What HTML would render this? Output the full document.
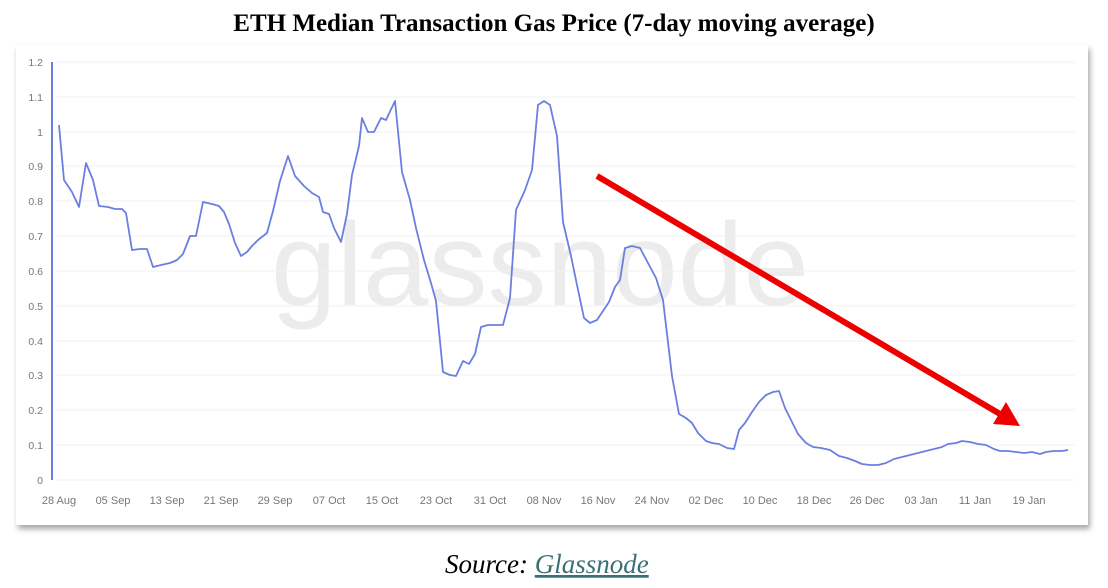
<!DOCTYPE html>
<html><head><meta charset="utf-8"><style>
html,body{margin:0;padding:0;background:#fff;width:1108px;height:588px;overflow:hidden}
</style></head><body>
<svg width="1108" height="588" viewBox="0 0 1108 588" xmlns="http://www.w3.org/2000/svg">
<defs><filter id="sh" x="-5%" y="-5%" width="110%" height="115%"><feDropShadow dx="2" dy="4" stdDeviation="3" flood-color="#000" flood-opacity="0.35"/></filter></defs>
<text x="554" y="31" text-anchor="middle" font-family="Liberation Serif, serif" font-weight="bold" font-size="25" fill="#000">ETH Median Transaction Gas Price (7-day moving average)</text>
<rect x="16" y="45" width="1072" height="480" fill="#fff" filter="url(#sh)"/>
<text x="540" y="305" text-anchor="middle" font-family="Liberation Sans, sans-serif" font-size="118" fill="#ececec">glassnode</text>
<g stroke="#f0f0f0" stroke-width="1">
<line x1="55" x2="1075" y1="62" y2="62"/><line x1="55" x2="1075" y1="97" y2="97"/><line x1="55" x2="1075" y1="132" y2="132"/><line x1="55" x2="1075" y1="166" y2="166"/><line x1="55" x2="1075" y1="201" y2="201"/><line x1="55" x2="1075" y1="236" y2="236"/><line x1="55" x2="1075" y1="271" y2="271"/><line x1="55" x2="1075" y1="306" y2="306"/><line x1="55" x2="1075" y1="341" y2="341"/><line x1="55" x2="1075" y1="375" y2="375"/><line x1="55" x2="1075" y1="410" y2="410"/><line x1="55" x2="1075" y1="445" y2="445"/><line x1="55" x2="1075" y1="480" y2="480"/>
</g>
<line x1="52" y1="62" x2="52" y2="480" stroke="#6b7fe0" stroke-width="2"/>
<g font-family="Liberation Sans, sans-serif" font-size="10.5" fill="#777" text-anchor="end">
<text x="43" y="66">1.2</text><text x="43" y="101">1.1</text><text x="43" y="136">1</text><text x="43" y="170">0.9</text><text x="43" y="205">0.8</text><text x="43" y="240">0.7</text><text x="43" y="275">0.6</text><text x="43" y="310">0.5</text><text x="43" y="345">0.4</text><text x="43" y="379">0.3</text><text x="43" y="414">0.2</text><text x="43" y="449">0.1</text><text x="43" y="484">0</text>
</g>
<g font-family="Liberation Sans, sans-serif" font-size="11" fill="#777" text-anchor="middle">
<text x="59" y="504">28 Aug</text><text x="113" y="504">05 Sep</text><text x="167" y="504">13 Sep</text><text x="221" y="504">21 Sep</text><text x="275" y="504">29 Sep</text><text x="329" y="504">07 Oct</text><text x="382" y="504">15 Oct</text><text x="436" y="504">23 Oct</text><text x="490" y="504">31 Oct</text><text x="544" y="504">08 Nov</text><text x="598" y="504">16 Nov</text><text x="652" y="504">24 Nov</text><text x="706" y="504">02 Dec</text><text x="760" y="504">10 Dec</text><text x="814" y="504">18 Dec</text><text x="867" y="504">26 Dec</text><text x="921" y="504">03 Jan</text><text x="975" y="504">11 Jan</text><text x="1029" y="504">19 Jan</text>
</g>
<polyline fill="none" stroke="#6b7fe0" stroke-width="1.8" stroke-linejoin="round" points="59,125 64,180 72,192 79,207 86,163 93,180 99,206 108,207 115,209 122,209 126,213 132,250 140,249 147,249 153,267 161,265 170,263 177,260 183,254 190,236 196,236 203,202 212,204 219,206 224,212 229,224 235,243 241,256 247,252 252,246 258,240 267,233 273,211 280,181 288,156 295,176 304,186 312,193 319,197 323,212 329,214 334,228 341,242 347,214 352,175 359,146 362,118 368,132 374,132 381,118 386,120 395,101 402,172 410,200 416,228 424,260 431,283 436,301 443,372 450,375 456,376 463,361 469,364 475,354 481,327 488,325 496,325 503,325 510,298 516,210 525,190 532,170 538,105 544,101 550,105 557,136 563,222 571,256 577,285 584,318 590,323 597,320 603,311 609,302 615,287 620,280 625,248 632,246 640,248 648,263 656,278 663,300 672,376 679,414 686,418 692,423 698,433 706,441 712,443 719,444 727,448 734,449 739,430 745,423 752,412 759,402 766,395 773,392 779,391 785,408 791,420 798,434 806,443 813,447 821,448 830,450 839,456 847,458 855,461 862,464 870,465 878,465 886,463 894,459 902,457 910,455 918,453 926,451 934,449 942,447 948,444 956,443 962,441 970,442 978,444 986,445 994,449 1000,451 1008,451 1016,452 1024,453 1032,452 1040,454 1046,452 1054,451 1062,451 1068,450"/>
<line x1="597" y1="176" x2="1000" y2="414" stroke="#e00" stroke-width="6"/>
<polygon points="1020,426 993,424 1006,402" fill="#e00"/>
<text x="445" y="573" font-family="Liberation Serif, serif" font-style="italic" font-size="27" fill="#000">Source: <tspan fill="#3b6f78" text-decoration="underline">Glassnode</tspan></text>
</svg>
</body></html>
